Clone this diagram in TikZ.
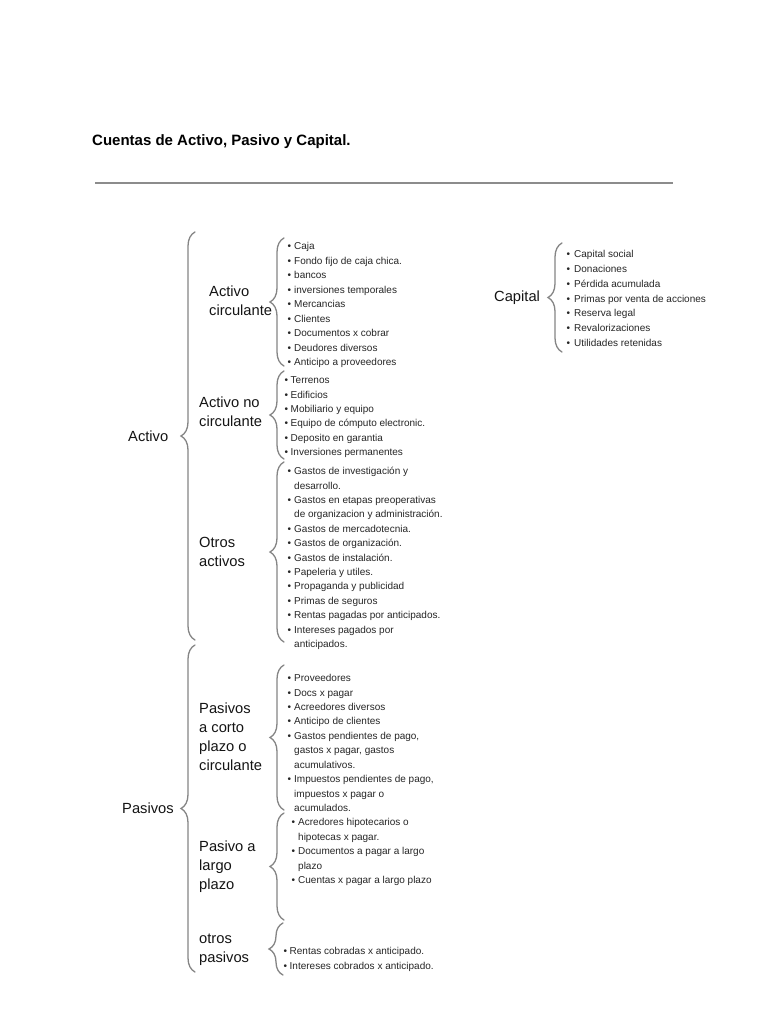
\documentclass[tikz,border=0pt]{standalone}
\usepackage{fontspec}
\setmainfont{Liberation Sans}
\usetikzlibrary{decorations.pathreplacing}
\definecolor{brcol}{HTML}{858585}
\definecolor{txtcol}{HTML}{262626}
\definecolor{rulecol}{HTML}{8C8C8C}
\newcommand\blist[6]{%
  \foreach \k/\t [count=\i] in {#6} {
    \node[itm] (#1\i) at (#3, {#4+#5*(\i-1)}) {\t};
    \ifnum\k=1 \node[bul] (#1b\i) at (#2, {#4+#5*(\i-1)}) {\textbullet};\fi
  }%
}
\begin{document}
\begin{tikzpicture}[x=1pt,y=-1pt,
  lbl/.style={anchor=base west, align=left, inner sep=0pt, font=\fontsize{14.7}{19}\selectfont, text=black!92},
  itm/.style={anchor=base west, inner sep=0pt, font=\fontsize{10}{14.5}\selectfont, text=txtcol},
  bul/.style={anchor=base west, inner sep=0pt, font=\fontsize{10}{14.5}\selectfont, text=txtcol},
  brc/.style={draw=brcol, line width=1.3pt, line cap=round, decorate, decoration={brace, amplitude=14pt}}]
\useasboundingbox[fill=white] (0,0) rectangle (768,1024);

% title and rule
\node[anchor=base west, inner sep=0pt, font=\bfseries\fontsize{15}{18}\selectfont] (title) at (92,146) {Cuentas de Activo, Pasivo y Capital.};
\coordinate (ruleL) at (95,183);
\coordinate (ruleR) at (673,183);
\draw[rulecol, line width=1.8pt] (ruleL) -- (ruleR);

% main labels
\node[lbl] (activo) at (128,441) {Activo};
\node[lbl] (pasivos) at (122,813) {Pasivos};
\node[lbl] (capital) at (494,301) {Capital};

% sub labels (anchor = baseline of last line)
\node[lbl] (lac) at (209,315) {Activo\\circulante};
\node[lbl] (lanc) at (199,426) {Activo no\\circulante};
\node[lbl] (loa) at (199,566) {Otros\\activos};
\node[lbl] (lpc) at (199,770) {Pasivos\\a corto\\plazo o\\circulante};
\node[lbl] (lpl) at (199,889) {Pasivo a\\largo\\plazo};
\node[lbl] (lop) at (199,962) {otros\\pasivos};

% braces: main
\coordinate (bAt) at (195,232); \coordinate (bAb) at (195,640);
\coordinate (bPt) at (195,645); \coordinate (bPb) at (195,972);
\draw[brc] (bAb) -- (bAt);
\draw[brc] (bPb) -- (bPt);
% sub braces
\coordinate (b1t) at (284,238); \coordinate (b1b) at (284,366);
\coordinate (b2t) at (284,371); \coordinate (b2b) at (284,459);
\coordinate (b3t) at (284,462); \coordinate (b3b) at (284,642);
\coordinate (b4t) at (284,665); \coordinate (b4b) at (284,810);
\coordinate (b5t) at (284,813); \coordinate (b5b) at (284,920);
\coordinate (b6t) at (283,923); \coordinate (b6b) at (283,975);
\coordinate (bCt) at (562,243); \coordinate (bCb) at (562,352);
\foreach \n in {1,...,6,C} {\draw[brc] (b\n b) -- (b\n t);}

% lists
\blist{ac}{287.5}{294}{249.7}{14.5}{1/Caja, 1/Fondo fijo de caja chica., 1/bancos, 1/inversiones temporales, 1/Mercancias, 1/Clientes, 1/Documentos x cobrar, 1/Deudores diversos, 1/Anticipo a proveedores}
\blist{anc}{284.5}{290.5}{383.6}{14.4}{1/Terrenos, 1/Edificios, 1/Mobiliario y equipo, 1/Equipo de cómputo electronic., 1/Deposito en garantia, 1/Inversiones permanentes}
\blist{oa}{287.5}{294}{474.6}{14.42}{1/Gastos de investigación y, 0/desarrollo., 1/Gastos en etapas preoperativas, 0/de organizacion y administración., 1/Gastos de mercadotecnia., 1/Gastos de organización., 1/Gastos de instalación., 1/Papeleria y utiles., 1/Propaganda y publicidad, 1/Primas de seguros, 1/Rentas pagadas por anticipados., 1/Intereses pagados por, 0/anticipados.}
\blist{pc}{287.5}{294}{681.6}{14.44}{1/Proveedores, 1/Docs x pagar, 1/Acreedores diversos, 1/Anticipo de clientes, 1/{Gastos pendientes de pago,}, 0/{gastos x pagar, gastos}, 0/acumulativos., 1/{Impuestos pendientes de pago,}, 0/impuestos x pagar o, 0/acumulados.}
\blist{pl}{291.5}{298}{825.6}{14.5}{1/Acredores hipotecarios o, 0/hipotecas x pagar., 1/Documentos a pagar a largo, 0/plazo, 1/Cuentas x pagar a largo plazo}
\blist{op}{283.5}{289.5}{954.6}{14.5}{1/Rentas cobradas x anticipado., 1/Intereses cobrados x anticipado.}
\blist{cap}{566.5}{574}{257.6}{14.83}{1/Capital social, 1/Donaciones, 1/Pérdida acumulada, 1/Primas por venta de acciones, 1/Reserva legal, 1/Revalorizaciones, 1/Utilidades retenidas}
\end{tikzpicture}
\end{document}
